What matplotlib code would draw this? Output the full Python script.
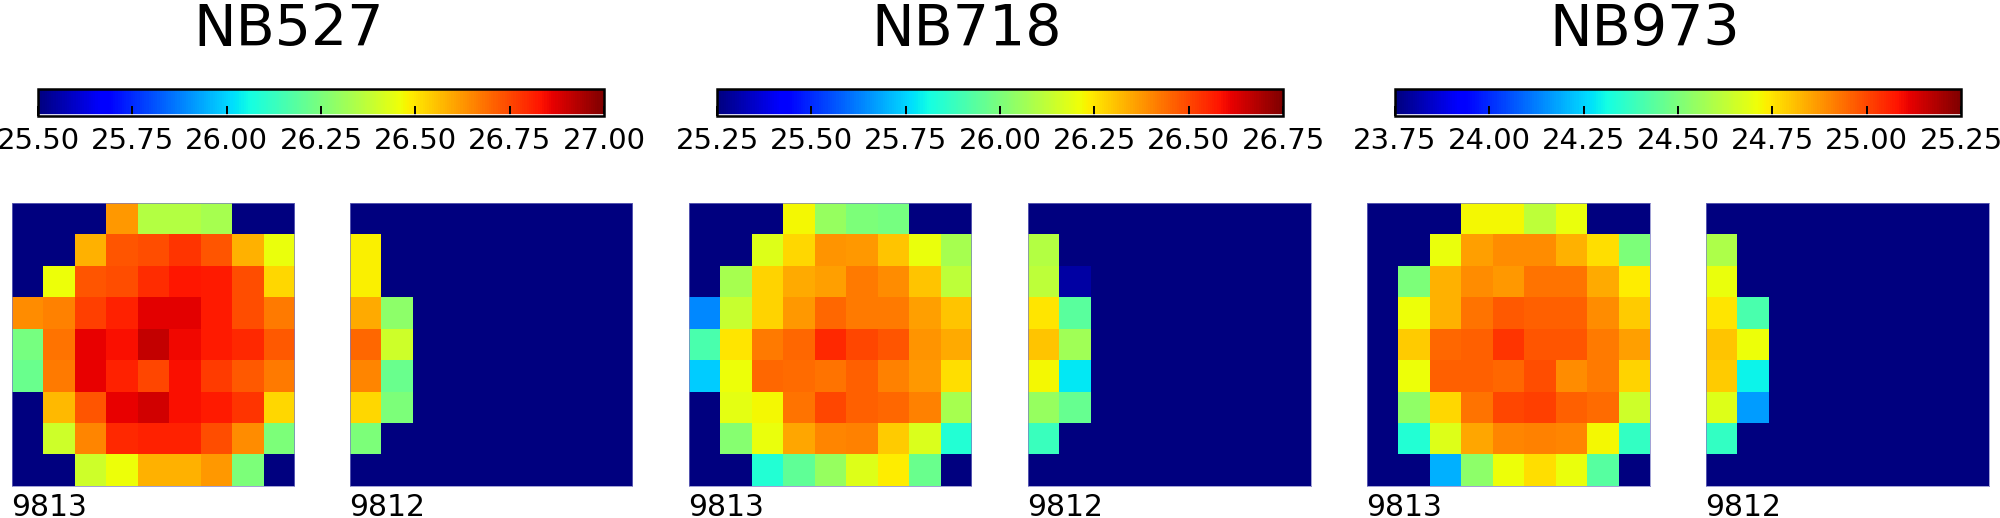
"""Surface brightness maps for three narrow bands, two detectors each."""
import numpy as np
import matplotlib
matplotlib.use("Agg")
import matplotlib.pyplot as plt
from matplotlib.colors import Normalize
from matplotlib.cm import ScalarMappable

NV = 0.0  # empty pixels, below the colour range

bands = ["NB527", "NB718", "NB973"]
detectors = ["9813", "9812"]
ranges = [(25.5, 27.0), (25.25, 26.75), (23.75, 25.25)]
tick_values = [
    [25.50, 25.75, 26.00, 26.25, 26.50, 26.75, 27.00],
    [25.25, 25.50, 25.75, 26.00, 26.25, 26.50, 26.75],
    [23.75, 24.00, 24.25, 24.50, 24.75, 25.00, 25.25],
]

nb527_9813 = [
    [NV, NV, NV, 26.62, 26.35, 26.35, 26.33, NV, NV],
    [NV, NV, 26.58, 26.73, 26.74, 26.78, 26.73, 26.58, 26.45],
    [NV, 26.46, 26.73, 26.74, 26.79, 26.83, 26.82, 26.74, 26.52],
    [26.64, 26.66, 26.76, 26.81, 26.87, 26.87, 26.82, 26.74, 26.67],
    [26.24, 26.68, 26.86, 26.84, 26.91, 26.85, 26.82, 26.80, 26.72],
    [26.22, 26.67, 26.86, 26.81, 26.75, 26.84, 26.77, 26.72, 26.67],
    [NV, 26.57, 26.73, 26.86, 26.89, 26.84, 26.82, 26.78, 26.52],
    [NV, 26.40, 26.65, 26.80, 26.81, 26.81, 26.74, 26.64, 26.25],
    [NV, NV, 26.40, 26.46, 26.58, 26.58, 26.62, 26.25, NV],
]
nb527_9812 = [
    [NV, NV, NV, NV, NV, NV, NV, NV, NV],
    [26.48, NV, NV, NV, NV, NV, NV, NV, NV],
    [26.48, NV, NV, NV, NV, NV, NV, NV, NV],
    [26.59, 26.28, NV, NV, NV, NV, NV, NV, NV],
    [26.70, 26.40, NV, NV, NV, NV, NV, NV, NV],
    [26.65, 26.22, NV, NV, NV, NV, NV, NV, NV],
    [26.52, 26.25, NV, NV, NV, NV, NV, NV, NV],
    [26.25, NV, NV, NV, NV, NV, NV, NV, NV],
    [NV, NV, NV, NV, NV, NV, NV, NV, NV],
]
nb718_9813 = [
    [NV, NV, NV, 26.22, 26.05, 26.00, 25.99, NV, NV],
    [NV, NV, 26.18, 26.27, 26.38, 26.37, 26.30, 26.20, 26.08],
    [NV, 26.08, 26.28, 26.34, 26.36, 26.42, 26.39, 26.30, 26.12],
    [25.64, 26.14, 26.28, 26.37, 26.45, 26.42, 26.42, 26.36, 26.30],
    [25.91, 26.25, 26.42, 26.45, 26.55, 26.50, 26.48, 26.38, 26.34],
    [25.74, 26.21, 26.45, 26.44, 26.43, 26.46, 26.41, 26.37, 26.26],
    [NV, 26.19, 26.22, 26.43, 26.50, 26.46, 26.45, 26.41, 26.08],
    [NV, 26.02, 26.20, 26.35, 26.40, 26.41, 26.29, 26.17, 25.84],
    [NV, NV, 25.84, 25.95, 26.05, 26.18, 26.24, 25.97, NV],
]
nb718_9812 = [
    [NV, NV, NV, NV, NV, NV, NV, NV, NV],
    [26.10, NV, NV, NV, NV, NV, NV, NV, NV],
    [26.12, 25.30, NV, NV, NV, NV, NV, NV, NV],
    [26.25, 25.94, NV, NV, NV, NV, NV, NV, NV],
    [26.30, 26.07, NV, NV, NV, NV, NV, NV, NV],
    [26.22, 25.78, NV, NV, NV, NV, NV, NV, NV],
    [26.05, 25.96, NV, NV, NV, NV, NV, NV, NV],
    [25.88, NV, NV, NV, NV, NV, NV, NV, NV],
    [NV, NV, NV, NV, NV, NV, NV, NV, NV],
]
nb973_9813 = [
    [NV, NV, NV, 24.72, 24.72, 24.62, 24.70, NV, NV],
    [NV, NV, 24.70, 24.86, 24.89, 24.89, 24.83, 24.76, 24.50],
    [NV, 24.50, 24.83, 24.89, 24.87, 24.93, 24.93, 24.84, 24.74],
    [NV, 24.71, 24.83, 24.93, 24.97, 24.96, 24.96, 24.89, 24.79],
    [NV, 24.79, 24.95, 24.96, 25.03, 24.98, 24.98, 24.92, 24.86],
    [NV, 24.71, 24.96, 24.96, 24.95, 24.99, 24.89, 24.92, 24.78],
    [NV, 24.54, 24.77, 24.93, 25.00, 25.01, 24.96, 24.94, 24.65],
    [NV, 24.34, 24.68, 24.85, 24.90, 24.91, 24.90, 24.72, 24.37],
    [NV, NV, 24.20, 24.53, 24.71, 24.76, 24.70, 24.43, NV],
]
nb973_9812 = [
    [NV, NV, NV, NV, NV, NV, NV, NV, NV],
    [24.59, NV, NV, NV, NV, NV, NV, NV, NV],
    [24.70, NV, NV, NV, NV, NV, NV, NV, NV],
    [24.75, 24.41, NV, NV, NV, NV, NV, NV, NV],
    [24.80, 24.71, NV, NV, NV, NV, NV, NV, NV],
    [24.79, 24.30, NV, NV, NV, NV, NV, NV, NV],
    [24.68, 24.17, NV, NV, NV, NV, NV, NV, NV],
    [24.37, NV, NV, NV, NV, NV, NV, NV, NV],
    [NV, NV, NV, NV, NV, NV, NV, NV, NV],
]
maps = [(nb527_9813, nb527_9812), (nb718_9813, nb718_9812), (nb973_9813, nb973_9812)]

W, H = 2000, 518
plt.rcParams["font.family"] = "DejaVu Sans"


def px_axes(fig, x0, y0, x1, y1):
    """Axes from pixel edges, y counted from the top of the image."""
    return fig.add_axes([x0 / W, 1 - y1 / H, (x1 - x0) / W, (y1 - y0) / H])


fig = plt.figure(figsize=(W / 100, H / 100), dpi=100)

panel_left = [[11.5, 349.5], [689, 1028], [1367, 1706]]
bar_left = [38, 717, 1395]
title_x = [289, 967, 1645]

for i, band in enumerate(bands):
    vmin, vmax = ranges[i]
    norm = Normalize(vmin, vmax)

    for j, det in enumerate(detectors):
        x0 = panel_left[i][j]
        ax = px_axes(fig, x0, 203, x0 + 282.5, 486)
        ax.imshow(np.array(maps[i][j]), cmap="jet", norm=norm, interpolation="nearest", aspect="auto")
        ax.set_xticks([])
        ax.set_yticks([])
        for s in ax.spines.values():
            s.set_color("#7a7ac4")
            s.set_linewidth(0.5)
        fig.text((x0 - 0.5) / W, 1 - 516 / H, det, fontsize=21.5, ha="left", va="baseline")

    cax = px_axes(fig, bar_left[i], 89, bar_left[i] + 566, 116)
    cb = fig.colorbar(ScalarMappable(norm=norm, cmap="jet"), cax=cax, orientation="horizontal")
    cb.set_ticks(tick_values[i])
    cb.set_ticklabels([f"{v:.2f}" for v in tick_values[i]])
    cb.outline.set_linewidth(1.8)
    cb.outline.set_edgecolor("black")
    cax.tick_params(axis="x", direction="in", length=7.5, width=1.4, labelsize=21, pad=8)
    cax.axhline(0.05, color="white", linewidth=1.2, zorder=2)

    fig.text(title_x[i] / W, 1 - 46 / H, band, fontsize=41, ha="center", va="baseline")

fig.savefig("out.png", dpi=100)
plt.close(fig)
